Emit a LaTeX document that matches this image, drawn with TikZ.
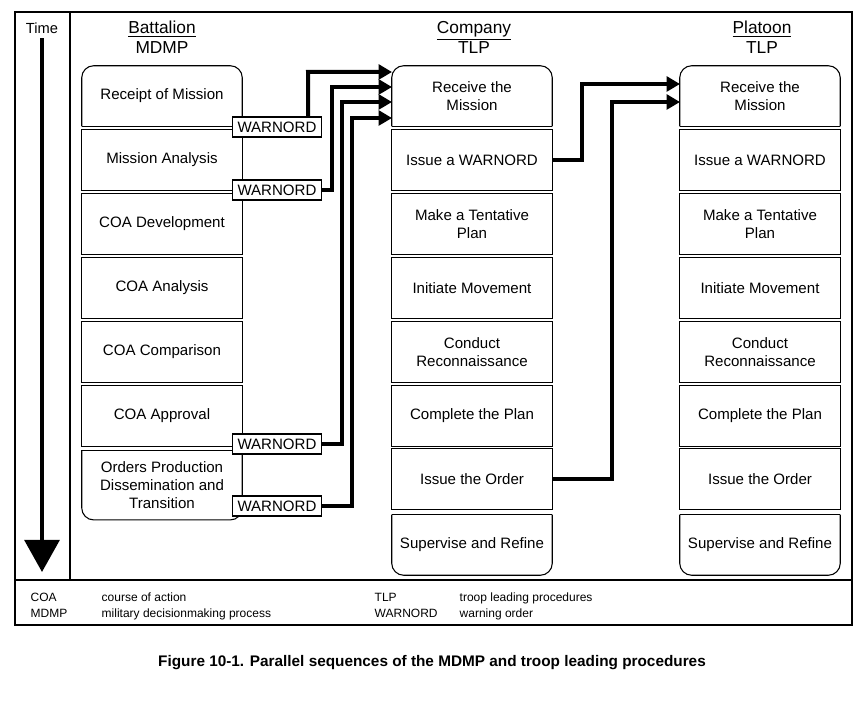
\documentclass[tikz,border=0pt]{standalone}
\usepackage{fontspec}
\setmainfont{Liberation Sans}
\usetikzlibrary{arrows.meta}
\begin{document}
\begin{tikzpicture}[x=0.75pt,y=-0.75pt,
	stepnode/.style={
		% The shape:
		rectangle,
		% The size:
		minimum width=120pt,
		minimum height=45pt,
		align=center,
		% Font
		font=\fontsize{11.3}{13.5}\selectfont
		},
	wonode/.style={draw=black,thick,fill=white,inner sep=1.5pt,
		minimum width=67pt,minimum height=15pt,font=\fontsize{11.3}{12}\selectfont},
	headnode/.style={anchor=base,font=\fontsize{13}{14}\selectfont},
	legendnode/.style={anchor=base west,font=\fontsize{9}{10}\selectfont},
	flow/.style={line width=3pt,-{Triangle[length=10pt,width=11pt]}}
	]
	\useasboundingbox (0,0) rectangle (864,705);
	% frame
	\draw[thick] (15,12) rectangle (852,625);
	\draw[thick] (15,580) -- (852,580);
	\draw[thick] (70,12) -- (70,580);
	% time arrow
	\node (time) at (42,28) {\fontsize{11}{13}\selectfont Time};
	\coordinate (tend) at (42,572);
	\draw[line width=3pt,-{Triangle[length=24pt,width=26pt]}] (time.south) -- (tend);

	% headers
	\node[headnode] (bath) at (162,34) {\underline{Battalion}};
	\node[headnode] (bats) at (162,54) {MDMP};
	\node[headnode] (coyh) at (474,34) {\underline{Company}};
	\node[headnode] (coys) at (474,54) {TLP};
	\node[headnode] (plth) at (762,34) {\underline{Platoon}};
	\node[headnode] (plts) at (762,54) {TLP};

	% battalion column
	\foreach \i/\y/\t in {1/96/Receipt of Mission, 2/160/Mission Analysis,
		3/224/COA Development, 4/288/COA Analysis, 5/352/COA Comparison, 6/416/COA Approval}
		\node[stepnode] (bat\i) at (162,\y) {\t};
	\node[stepnode,minimum height=52pt] (bat7) at (162,485) {Orders Production\\Dissemination and\\Transition};
	\foreach \i in {2,...,6}
		\draw[thick] (bat\i.south west) rectangle (bat\i.north east);

	% company and platoon columns
	\foreach \c/\x in {coy/472,plt/760}{
		\foreach \i/\y/\t in {1/96/{Receive the\\Mission}, 2/160/Issue a WARNORD,
			3/224/{Make a Tentative\\Plan}, 4/288/Initiate Movement,
			5/352/{Conduct\\Reconnaissance}, 6/416/Complete the Plan,
			7/479/Issue the Order, 8/545/Supervise and Refine}
			\node[stepnode] (\c\i) at (\x,\y) {\t};
		\foreach \i in {2,...,7}
			\draw[thick] (\c\i.south west) rectangle (\c\i.north east);
	}

	% rounded ends
	\foreach \n in {bat1,coy1,plt1}{
		\draw[thick,rounded corners=9pt] (\n.south west) -- (\n.north west) -- (\n.north east) -- (\n.south east);
		\draw[thick] (\n.south west) -- (\n.south east);
	}
	\foreach \n in {bat7,coy8,plt8}{
		\draw[thick,rounded corners=9pt] (\n.north west) -- (\n.south west) -- (\n.south east) -- (\n.north east);
		\draw[thick] (\n.north west) -- (\n.north east);
	}

	% warning orders
	\node[wonode] (wo1) at (277,127) {WARNORD};
	\node[wonode] (wo2) at (277,190) {WARNORD};
	\node[wonode] (wo3) at (277,444) {WARNORD};
	\node[wonode] (wo4) at (277,506) {WARNORD};

	\coordinate (t1) at (392,72);  \coordinate (t1a) at (308,72);
	\coordinate (t2) at (392,87);  \coordinate (t2a) at (332,87);
	\coordinate (t3) at (392,102); \coordinate (t3a) at (342,102);
	\coordinate (t4) at (392,118); \coordinate (t4a) at (352,118);
	\draw[flow] (wo1.north east) ++(-14,0) -- (t1a) -- (t1);
	\draw[flow] (wo2.east) -| (t2a) -- (t2);
	\draw[flow] (wo3.east) -| (t3a) -- (t3);
	\draw[flow] (wo4.east) -| (t4a) -- (t4);

	\coordinate (p1) at (680,84);  \coordinate (p1a) at (582,84);
	\coordinate (p2) at (680,102); \coordinate (p2a) at (612,102);
	\draw[flow] (coy2.east) -| (p1a) -- (p1);
	\draw[flow] (coy7.east) -| (p2a) -- (p2);

	% legend
	\node[legendnode] (lg1) at (26,601) {COA};
	\node[legendnode] (lg2) at (26,617) {MDMP};
	\node[legendnode] (lg3) at (97,601) {course of action};
	\node[legendnode] (lg4) at (97,617) {military decisionmaking process};
	\node[legendnode] (lg5) at (370,601) {TLP};
	\node[legendnode] (lg6) at (370,617) {WARNORD};
	\node[legendnode] (lg7) at (455,601) {troop leading procedures};
	\node[legendnode] (lg8) at (455,617) {warning order};

	% caption
	\node[font=\bfseries\fontsize{11.5}{13}\selectfont] (cap) at (432,663)
		{Figure 10-1. Parallel sequences of the MDMP and troop leading procedures};
\end{tikzpicture}
\end{document}
